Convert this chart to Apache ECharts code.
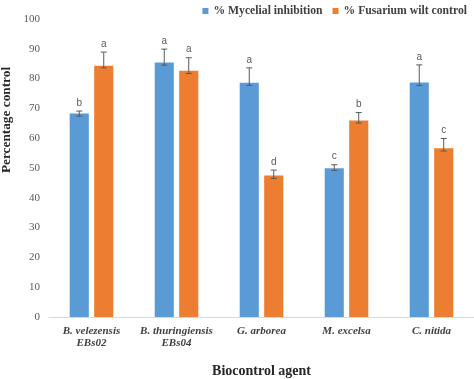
<!DOCTYPE html>
<html><head><meta charset="utf-8">
<script src="https://cdn.jsdelivr.net/npm/echarts@6/dist/echarts.min.js"></script>
<style>html,body{margin:0;padding:0;background:#fff}#c{width:474px;height:379px}</style>
</head><body><div id="c"></div>
<script>
var categories = ['B. velezensis\nEBs02', 'B. thuringiensis\nEBs04', 'G. arborea', 'M. excelsa', 'C. nitida'];
var mycelial = [68.3, 85.4, 78.6, 49.9, 78.7];
var mycelialLow = [67.4, 84.5, 77.7, 49.2, 77.7];
var mycelialHigh = [69.1, 89.9, 83.6, 51.1, 84.6];
var mycelialLetters = ['b', 'a', 'a', 'c', 'a'];
var fusarium = [84.3, 82.6, 47.5, 65.9, 56.6];
var fusariumLow = [83.6, 81.7, 46.5, 65.1, 55.7];
var fusariumHigh = [88.9, 87.0, 49.3, 68.6, 59.9];
var fusariumLetters = ['a', 'a', 'd', 'b', 'c'];
var yTicks = [0, 10, 20, 30, 40, 50, 60, 70, 80, 90, 100];

var BAR_W = 0.225, BAR_GAP = 0.28;
function errSeries(name, low, high, letters, sign) {
  var data = categories.map(function (c, i) { return [i, low[i], high[i], letters[i]]; });
  return {
    type: 'custom', name: name + ' err', silent: true, z: 5,
    encode: { x: 0, y: [1, 2] },
    data: data,
    renderItem: function (params, api) {
      var band = api.size([1, 0])[0];
      var w = band * BAR_W;
      var off = sign * (w * (1 + BAR_GAP)) / 2;
      var lo = api.coord([api.value(0), api.value(1)]);
      var hi = api.coord([api.value(0), api.value(2)]);
      var x = lo[0] + off;
      var cap = 3;
      var st = { stroke: '#595959', lineWidth: 1 };
      return { type: 'group', children: [
        { type: 'line', shape: { x1: x, y1: lo[1], x2: x, y2: hi[1] }, style: st },
        { type: 'line', shape: { x1: x - cap, y1: lo[1], x2: x + cap, y2: lo[1] }, style: st },
        { type: 'line', shape: { x1: x - cap, y1: hi[1], x2: x + cap, y2: hi[1] }, style: st },
        { type: 'text', style: { text: api.value(3), x: x, y: hi[1] - 3, align: 'center', verticalAlign: 'bottom',
          fill: '#595959', font: '10px "Liberation Sans", Arial, sans-serif' } }
      ]};
    }
  };
}

var chart = echarts.init(document.getElementById('c'), null, { renderer: 'canvas' });
chart.setOption({
  animation: false,
  backgroundColor: '#ffffff',
  grid: { left: 49, right: 0, top: 19, bottom: 62, containLabel: false, outerBoundsMode: 'none' },
  legend: {
    data: ['% Mycelial inhibition', '% Fusarium wilt control'],
    right: 2, top: 0, icon: 'rect', itemWidth: 6, itemHeight: 6, itemGap: 10,
    textStyle: { fontFamily: 'Liberation Serif', fontWeight: 'bold', fontSize: 11.7, color: '#404040' }
  },
  xAxis: {
    type: 'category', data: categories,
    axisLine: { lineStyle: { color: '#d9d9d9' } },
    axisTick: { show: false },
    axisLabel: { fontFamily: 'Liberation Serif', fontWeight: 'bold', fontStyle: 'italic', fontSize: 11,
      color: '#404040', lineHeight: 12, margin: 8, interval: 0 },
    name: 'Biocontrol agent', nameLocation: 'middle', nameGap: 47,
    nameTextStyle: { fontFamily: 'Liberation Serif', fontWeight: 'bold', fontSize: 14, color: '#262626' }
  },
  yAxis: {
    type: 'value', min: yTicks[0], max: yTicks[yTicks.length - 1], interval: 10,
    axisLine: { show: false }, axisTick: { show: false }, splitLine: { show: false },
    axisLabel: { fontFamily: 'Liberation Serif', fontSize: 11, color: '#595959', margin: 9 },
    name: 'Percentage control', nameLocation: 'middle', nameGap: 31, nameRotate: 90,
    nameTextStyle: { fontFamily: 'Liberation Serif', fontWeight: 'bold', fontSize: 13.3, color: '#262626',
      padding: [0, 0, 0, 96] }
  },
  series: [
    { type: 'bar', name: '% Mycelial inhibition', data: mycelial, barWidth: (BAR_W * 100) + '%', barGap: (BAR_GAP * 100) + '%',
      itemStyle: { color: '#5B9BD5' } },
    { type: 'bar', name: '% Fusarium wilt control', data: fusarium, barWidth: (BAR_W * 100) + '%',
      itemStyle: { color: '#ED7D31' } },
    errSeries('% Mycelial inhibition', mycelialLow, mycelialHigh, mycelialLetters, -1),
    errSeries('% Fusarium wilt control', fusariumLow, fusariumHigh, fusariumLetters, 1)
  ]
});
</script></body></html>
